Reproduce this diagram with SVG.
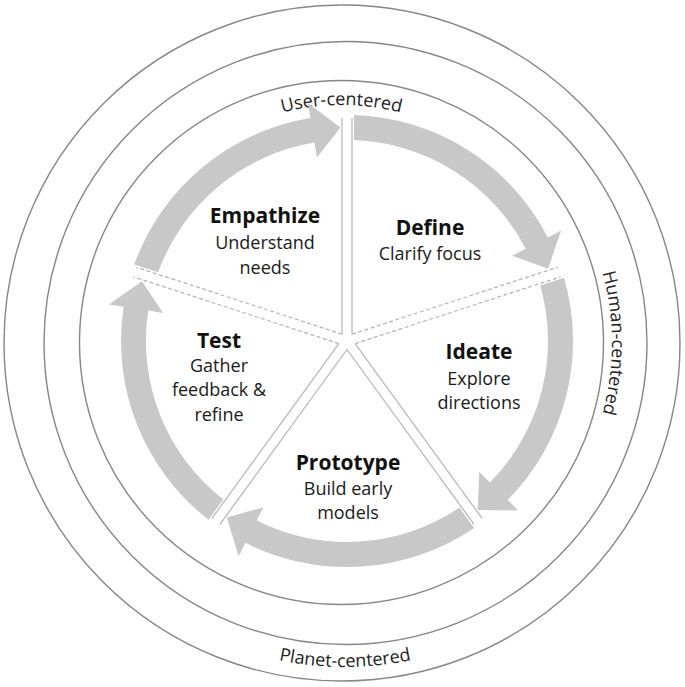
<svg xmlns="http://www.w3.org/2000/svg" width="685" height="687" viewBox="0 0 685 687">
<style>
.ring{fill:none;stroke:#868686;stroke-width:1.4}
.arrow{fill:#c8c8c8}
.sp{stroke:#b4b4b4;stroke-width:1.2;fill:none}
.dash{stroke-dasharray:4 2.5}
.t{font-family:"Open Sans","Noto Sans",sans-serif;text-anchor:middle;fill:#1a1a1a}
.h{font-size:21px;font-weight:bold;fill:#111}
.d{font-size:18px}
.lbl{font-family:"Open Sans","Noto Sans",sans-serif;font-size:18px;fill:#222}
</style>
<defs>
<path id="arr" d="M -212.7,-76.5 A 226 226 0 0 1 -36.5,-223.0 L -38.9,-237.8 L -6.5,-213.5 L -30.1,-183.6 L -32.5,-198.4 A 201 201 0 0 0 -188.9,-68.7 Z"/>
<g id="spoke"><line x1="6.9" y1="5" x2="223" y2="5"/><line x1="6.9" y1="-5" x2="223" y2="-5"/></g>
<path id="pUser" d="M 104,342.5 A 237.5 237.5 0 0 1 579,342.5"/>
<path id="pHuman" d="M 343,74 A 269 269 0 0 1 343,612"/>
<path id="pPlanet" d="M 21,343 A 324 324 0 0 0 669,343"/>
</defs>
<g id="rings">
<circle class="ring" cx="342" cy="343" r="338"/>
<circle class="ring" cx="345.5" cy="343" r="301.5"/>
<circle class="ring" cx="341.5" cy="342.5" r="262"/>
<text class="lbl"><textPath href="#pUser" startOffset="50%" text-anchor="middle">User-centered</textPath></text>
<text class="lbl"><textPath href="#pHuman" startOffset="50%" text-anchor="middle">Human-centered</textPath></text>
<text class="lbl"><textPath href="#pPlanet" startOffset="50%" text-anchor="middle">Planet-centered</textPath></text>
</g>
<g id="connectors" transform="translate(347,341)">
<use href="#spoke" class="sp" transform="rotate(-90)"/>
<use href="#spoke" class="sp dash" transform="rotate(-18)"/>
<use href="#spoke" class="sp" transform="rotate(54)"/>
<use href="#spoke" class="sp" transform="rotate(126)"/>
<use href="#spoke" class="sp dash" transform="rotate(198)"/>
</g>
<g id="empathize">
<use href="#arr" class="arrow" transform="translate(347,341)"/>
<text class="t h" x="265" y="223">Empathize</text>
<text class="t d" x="265" y="249">Understand</text>
<text class="t d" x="265" y="274">needs</text>
</g>
<g id="define">
<use href="#arr" class="arrow" transform="translate(347,341) rotate(72)"/>
<text class="t h" x="430" y="235">Define</text>
<text class="t d" x="430" y="260">Clarify focus</text>
</g>
<g id="ideate">
<use href="#arr" class="arrow" transform="translate(347,341) rotate(144)"/>
<text class="t h" x="479" y="359">Ideate</text>
<text class="t d" x="479" y="385">Explore</text>
<text class="t d" x="479" y="409">directions</text>
</g>
<g id="prototype">
<use href="#arr" class="arrow" transform="translate(347,341) rotate(216)"/>
<text class="t h" x="348" y="470">Prototype</text>
<text class="t d" x="348" y="495">Build early</text>
<text class="t d" x="348" y="519">models</text>
</g>
<g id="test">
<use href="#arr" class="arrow" transform="translate(347,341) rotate(288)"/>
<text class="t h" x="219" y="348">Test</text>
<text class="t d" x="219" y="372">Gather</text>
<text class="t d" x="219" y="396">feedback &amp;</text>
<text class="t d" x="219" y="421">refine</text>
</g>
</svg>
